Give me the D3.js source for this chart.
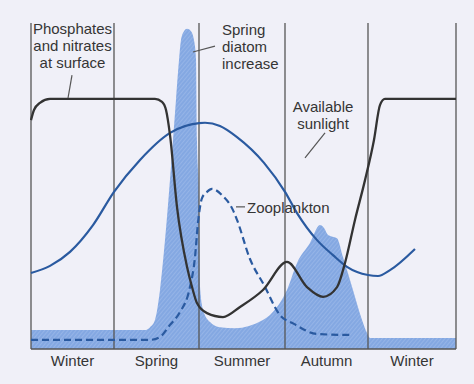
<!DOCTYPE html>
<html>
<head>
<meta charset="utf-8">
<script src="https://cdn.jsdelivr.net/npm/d3@7"></script>
<style>
  body { margin: 0; background: #f0f0f8; }
  text { font-family: "Liberation Sans", Arial, sans-serif; fill: #353535; }
</style>
</head>
<body>
<svg width="474" height="384"></svg>
<script>
// seasons across the year, boundaries at 0..5
var seasons = ["Winter", "Spring", "Summer", "Autumn", "Winter"];

// relative levels (0-100) against season position
var phosphates = [[0,70.2],[0.036,73.3],[0.108,75.5],[0.229,76.7],[0.831,76.7],[1.482,76.7],[1.565,75.8],
  [1.612,73.3],[1.659,65.6],[1.741,43.6],[1.859,25.2],[1.918,19.0],[1.976,14.1],[2.093,11.0],[2.279,9.8],
  [2.477,12.9],[2.744,18.1],[3.024,26.7],[3.265,19.0],[3.458,16.0],[3.627,19.0],[3.723,26.4],[3.843,39.6],
  [3.964,51.8],[4.068,64.1],[4.136,74.8],[4.193,76.7],[5,76.7]];

var sunlight = [[0,23.3],[0.229,25.5],[0.47,29.8],[0.747,38.0],[1,48.2],[1.306,58.0],[1.659,66.3],[2,69.3],
  [2.07,69.4],[2.244,68.4],[2.442,65.0],[2.756,57.1],[3,48.2],[3.145,41.7],[3.386,33.4],[3.578,28.8],
  [3.747,25.2],[4,22.7],[4.114,22.4],[4.25,24.2],[4.534,30.7]];

var zooplankton = [[0,2.8],[1.424,2.8],[1.541,3.7],[1.659,7.4],[1.776,11.3],[1.894,19.0],[1.953,28.2],
  [1.988,38.7],[2.035,46.3],[2.093,48.2],[2.151,49.1],[2.267,47.2],[2.395,42.6],[2.442,39.6],[2.593,27.6],
  [2.756,19.6],[2.942,10.4],[3.108,7.7],[3.386,4.6],[3.783,4.3]];

var diatoms = [[0,5.8],[1.365,5.8],[1.424,6.7],[1.482,8.9],[1.541,18.1],[1.6,33.4],[1.694,64.1],[1.729,76.4],
  [1.765,88.7],[1.788,94.8],[1.824,97.5],[1.859,98.2],[1.906,97.5],[1.941,94.8],[1.965,88.7],[1.976,64.1],
  [2.0,45.7],[2.012,19.0],[2.047,12.0],[2.128,8.3],[2.244,6.7],[2.419,6.4],[2.744,8.9],[2.907,12.9],
  [3.024,18.1],[3.145,26.4],[3.301,32.5],[3.422,38.0],[3.47,37.1],[3.518,35.0],[3.627,34.0],[3.699,28.2],
  [3.819,18.1],[3.928,8.9],[3.988,4.9],[4.023,3.4],[5,3.4]];

var labels = [
  {lines: ["Phosphates", "and nitrates", "at surface"], x: 0.5, y: 96.6, anchor: "middle", leader: [[0.494,84.0],[0.446,77.0]]},
  {lines: ["Spring", "diatom", "increase"], x: 2.267, y: 96.3, anchor: "start", leader: [[1.929,91.1],[2.186,92.9]]},
  {lines: ["Available", "sunlight"], x: 3.458, y: 72.7, anchor: "middle", leader: [[3.482,66.3],[3.241,58.6]]},
  {lines: ["Zooplankton"], x: 2.558, y: 41.7, anchor: "start", leader: [[2.43,43.6],[2.535,43.6]]}
];

var svg = d3.select("svg");

var x = d3.scaleLinear().domain([0, 1, 2, 3, 4, 5]).range([31, 114, 199, 285, 368, 456]),
    y = d3.scaleLinear().domain([0, 100]).range([349, 23]);

// hatched fill for the diatoms
var pat = svg.append("defs").append("pattern")
    .attr("id", "hatch")
    .attr("patternUnits", "userSpaceOnUse")
    .attr("width", 3).attr("height", 3)
    .attr("patternTransform", "rotate(40)");
pat.append("rect").attr("width", 3).attr("height", 3).attr("fill", "#84a8e2");
pat.append("line").attr("x1", 0).attr("y1", 0).attr("x2", 0).attr("y2", 3)
    .attr("stroke", "#a6c0ec").attr("stroke-width", 1);

svg.append("path")
    .datum(diatoms)
    .attr("fill", "url(#hatch)")
    .attr("d", d3.area()
      .x(function(d) { return x(d[0]); })
      .y0(y(0))
      .y1(function(d) { return y(d[1]); })
      .curve(d3.curveMonotoneX));

// season dividers and base line
svg.selectAll(".divider")
    .data(d3.range(0, 6))
  .enter().append("line")
    .attr("class", "divider")
    .attr("x1", function(d) { return x(d); })
    .attr("x2", function(d) { return x(d); })
    .attr("y1", y(0))
    .attr("y2", y(100))
    .attr("stroke", "#555")
    .attr("stroke-width", 1.3);

svg.append("line")
    .attr("x1", x(0)).attr("x2", x(5))
    .attr("y1", y(0)).attr("y2", y(0))
    .attr("stroke", "#555")
    .attr("stroke-width", 1.3);

var line = d3.line()
    .x(function(d) { return x(d[0]); })
    .y(function(d) { return y(d[1]); })
    .curve(d3.curveMonotoneX);

svg.append("path").datum(zooplankton)
    .attr("fill", "none").attr("stroke", "#2a5aa0")
    .attr("stroke-width", 2.2).attr("stroke-dasharray", "7,4")
    .attr("d", line);

svg.append("path").datum(sunlight)
    .attr("fill", "none").attr("stroke", "#2a5aa0")
    .attr("stroke-width", 2.2)
    .attr("d", line);

svg.append("path").datum(phosphates)
    .attr("fill", "none").attr("stroke", "#333")
    .attr("stroke-width", 2.3)
    .attr("d", line);

// season labels
svg.selectAll(".season")
    .data(seasons)
  .enter().append("text")
    .attr("class", "season")
    .attr("x", function(d, i) { return x(i + 0.5); })
    .attr("y", y(0) + 17)
    .attr("text-anchor", "middle")
    .style("font-size", "15px")
    .text(function(d) { return d; });

// annotations
labels.forEach(function(l) {
  svg.append("line")
      .attr("x1", x(l.leader[0][0])).attr("y1", y(l.leader[0][1]))
      .attr("x2", x(l.leader[1][0])).attr("y2", y(l.leader[1][1]))
      .attr("stroke", "#555").attr("stroke-width", 1.2);
  var t = svg.append("text")
      .attr("text-anchor", l.anchor)
      .style("font-size", "15px");
  l.lines.forEach(function(s, i) {
    t.append("tspan")
        .attr("x", x(l.x))
        .attr("y", y(l.y) + i * 17)
        .text(s);
  });
});
</script>
</body>
</html>
